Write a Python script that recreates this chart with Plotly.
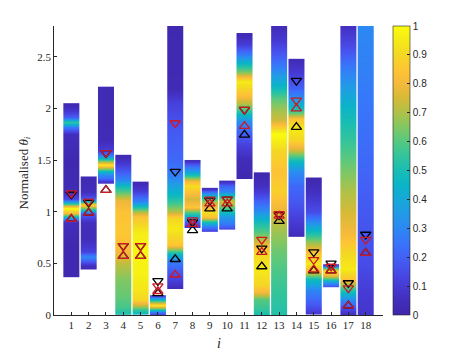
import plotly.graph_objects as go

# ---------------- data ----------------
columns = list(range(1, 19))

# density profiles per column: sample heights (ascending) and normalised density
prof_y = {
    1: [0.37, 0.7, 0.9, 0.95, 0.99, 1.03, 1.07, 1.12, 1.2, 1.5, 1.75, 1.82, 1.87, 1.92, 1.98, 2.05],
    2: [0.44, 0.48, 0.53, 0.57, 0.62, 0.75, 0.9, 0.98, 1.03, 1.07, 1.1, 1.14, 1.2, 1.34],
    3: [1.27, 1.3, 1.33, 1.36, 1.4, 1.455, 1.5, 1.55, 1.6, 1.7, 1.9, 2.21],
    4: [0.0, 0.08, 0.2, 0.35, 0.5, 0.65, 0.8, 1.0, 1.12, 1.18, 1.25, 1.31, 1.4, 1.48, 1.55],
    5: [0.0, 0.05, 0.1, 0.15, 0.25, 0.4, 0.6, 0.8, 0.95, 1.0, 1.05, 1.1, 1.2, 1.29],
    6: [0.0, 0.03, 0.06, 0.1, 0.13, 0.16, 0.19],
    7: [0.25, 0.32, 0.42, 0.52, 0.6, 0.68, 0.76, 0.84, 0.94, 1.0, 1.07, 1.15, 1.25, 1.35, 1.5, 1.8, 2.05, 2.2, 2.8],
    8: [0.85, 0.9, 0.95, 1.0, 1.05, 1.12, 1.2, 1.25, 1.3, 1.35, 1.4, 1.45, 1.5],
    9: [0.81, 0.86, 0.9, 0.95, 1.0, 1.05, 1.1, 1.15, 1.2, 1.23],
    10: [0.83, 0.85, 0.9, 0.95, 1.0, 1.06, 1.1, 1.15, 1.2, 1.25, 1.3],
    11: [1.32, 1.5, 1.65, 1.78, 1.88, 1.96, 2.04, 2.12, 2.2, 2.27, 2.35, 2.42, 2.52, 2.62, 2.73],
    12: [0.0, 0.05, 0.15, 0.22, 0.3, 0.45, 0.6, 0.7, 0.8, 0.9, 1.0, 1.15, 1.25, 1.38],
    13: [0.0, 0.2, 0.4, 0.6, 0.8, 0.95, 1.05, 1.2, 1.4, 1.6, 1.75, 1.89, 2.0, 2.1, 2.2, 2.37, 2.5, 2.65, 2.8],
    14: [0.76, 0.8, 0.95, 1.1, 1.25, 1.4, 1.5, 1.6, 1.7, 1.8, 1.9, 1.95, 2.0, 2.1, 2.2, 2.35, 2.48],
    15: [0.0, 0.1, 0.25, 0.35, 0.42, 0.5, 0.6, 0.7, 0.8, 0.9, 1.0, 1.2, 1.33],
    16: [0.27, 0.29, 0.33, 0.38, 0.42, 0.45, 0.49],
    17: [0.0, 0.05, 0.15, 0.25, 0.35, 0.45, 0.6, 0.8, 1.0, 1.2, 1.4, 1.6, 1.8, 2.0, 2.2, 2.4, 2.6, 2.8],
    18: [0.0, 0.2, 0.5, 1.0, 1.5, 2.0, 2.4, 2.8],
}
prof_v = {
    1: [0.02, 0.02, 0.05, 0.4, 0.8, 1.0, 0.6, 0.15, 0.03, 0.02, 0.05, 0.25, 0.55, 0.2, 0.08, 0.03],
    2: [0.03, 0.06, 0.2, 0.3, 0.12, 0.04, 0.05, 0.2, 0.6, 0.9, 0.45, 0.15, 0.05, 0.03],
    3: [0.04, 0.12, 0.25, 0.3, 0.5, 0.95, 0.55, 0.25, 0.1, 0.04, 0.03, 0.03],
    4: [0.5, 0.58, 0.62, 0.65, 0.72, 0.82, 0.86, 0.84, 0.78, 0.62, 0.48, 0.3, 0.18, 0.08, 0.03],
    5: [0.45, 0.55, 0.75, 0.9, 0.94, 0.97, 0.98, 0.96, 0.85, 0.7, 0.5, 0.3, 0.1, 0.03],
    6: [0.15, 0.25, 0.55, 0.95, 0.6, 0.35, 0.15],
    7: [0.03, 0.1, 0.18, 0.28, 0.5, 0.85, 0.9, 0.95, 0.9, 0.72, 0.6, 0.48, 0.38, 0.28, 0.22, 0.18, 0.12, 0.03, 0.02],
    8: [0.08, 0.2, 0.4, 0.6, 0.85, 0.75, 0.85, 0.92, 0.8, 0.55, 0.35, 0.2, 0.06],
    9: [0.12, 0.3, 0.5, 0.85, 0.92, 0.8, 0.7, 0.45, 0.18, 0.06],
    10: [0.12, 0.18, 0.28, 0.35, 0.5, 0.65, 0.75, 0.55, 0.3, 0.2, 0.06],
    11: [0.02, 0.04, 0.12, 0.22, 0.32, 0.5, 0.7, 0.82, 0.9, 0.95, 0.65, 0.5, 0.28, 0.12, 0.03],
    12: [0.5, 0.55, 0.6, 0.8, 0.9, 0.95, 0.9, 0.75, 0.6, 0.5, 0.32, 0.15, 0.06, 0.02],
    13: [0.52, 0.55, 0.58, 0.62, 0.68, 0.74, 0.8, 0.88, 0.84, 0.9, 1.0, 0.74, 0.68, 0.6, 0.48, 0.3, 0.2, 0.1, 0.04],
    14: [0.03, 0.06, 0.12, 0.18, 0.22, 0.32, 0.5, 0.75, 0.9, 0.95, 0.85, 0.65, 0.5, 0.32, 0.2, 0.1, 0.04],
    15: [0.08, 0.18, 0.3, 0.5, 0.8, 0.95, 0.85, 0.68, 0.5, 0.32, 0.15, 0.06, 0.02],
    16: [0.12, 0.22, 0.4, 0.75, 0.95, 0.6, 0.12],
    17: [0.05, 0.12, 0.3, 0.55, 0.85, 0.95, 0.9, 0.8, 0.75, 0.7, 0.64, 0.58, 0.52, 0.46, 0.36, 0.26, 0.15, 0.06],
    18: [0.08, 0.1, 0.15, 0.18, 0.22, 0.25, 0.28, 0.3],
}

# marker estimates per column
black_down = [1.17, 1.09, 1.57, 0.67, 0.67, 0.33, 1.39, 0.90, 1.11, 1.12, 1.99, 0.645, 0.97, 2.27, 0.61, 0.50, 0.31, 0.78]
black_up   = [0.93, 0.99, 1.21, 0.57, 0.57, 0.21, 0.54, 0.82, 1.03, 1.03, 1.745, 0.47, 0.91, 1.82, 0.43, 0.43, 0.09, 0.60]
red_down   = [1.18, 1.10, 1.57, 0.67, 0.67, 0.28, 1.86, 0.92, 1.12, 1.12, 1.99, 0.73, 0.98, 2.08, 0.535, 0.47, 0.26, 0.73]
red_up     = [0.93, 0.99, 1.21, 0.57, 0.57, 0.23, 0.39, 0.88, 1.08, 1.08, 1.83, 0.61, 0.96, 2.00, 0.44, 0.43, 0.09, 0.60]

x_ticks = list(range(1, 19))
y_ticks = [0, 0.5, 1, 1.5, 2, 2.5]
cbar_ticks = [0, 0.1, 0.2, 0.3, 0.4, 0.5, 0.6, 0.7, 0.8, 0.9, 1]

# ---------------- style ----------------
parula = [
    [0.00, "rgb(62,38,168)"],
    [0.05, "rgb(66,46,188)"],
    [0.10, "rgb(70,58,212)"],
    [0.15, "rgb(71,76,232)"],
    [0.20, "rgb(67,96,246)"],
    [0.25, "rgb(56,117,250)"],
    [0.30, "rgb(44,136,242)"],
    [0.35, "rgb(34,154,230)"],
    [0.40, "rgb(22,168,216)"],
    [0.45, "rgb(10,180,200)"],
    [0.50, "rgb(25,189,180)"],
    [0.55, "rgb(50,196,156)"],
    [0.60, "rgb(86,200,128)"],
    [0.65, "rgb(130,199,98)"],
    [0.70, "rgb(174,193,72)"],
    [0.75, "rgb(214,186,55)"],
    [0.80, "rgb(245,185,60)"],
    [0.85, "rgb(253,197,52)"],
    [0.90, "rgb(244,215,36)"],
    [0.95, "rgb(245,234,24)"],
    [1.00, "rgb(249,251,14)"],
]
half_w = 0.23
eps = 0.004
axis_col = "#262626"
red = "rgb(205,25,35)"
serif = "Liberation Serif"

fig = go.Figure()
for k, c in enumerate(columns):
    ys = prof_y[c]
    vs = prof_v[c]
    yc = [ys[0], ys[0] + eps] + ys[1:-1] + [ys[-1] - eps, ys[-1]]
    vc = [vs[0], vs[0]] + vs[1:-1] + [vs[-1], vs[-1]]
    fig.add_trace(go.Heatmap(
        x=[c - half_w, c + half_w],
        y=yc,
        z=[[v, v] for v in vc],
        zmin=0, zmax=1,
        colorscale=parula,
        zsmooth="best",
        showscale=(k == 0),
        hoverinfo="skip",
        colorbar=dict(
            thickness=17, thicknessmode="pixels",
            len=1, lenmode="fraction",
            x=1.03, xanchor="left", xpad=0,
            y=0.5, yanchor="middle", ypad=0,
            outlinewidth=0.6, outlinecolor=axis_col,
            tickvals=cbar_ticks,
            ticks="inside", ticklen=3, tickcolor=axis_col,
            tickfont=dict(family="Liberation Sans", size=10, color=axis_col),
        ),
    ))

def add_markers(vals, symbol, color):
    fig.add_trace(go.Scatter(
        x=columns, y=vals, mode="markers",
        marker=dict(symbol=symbol, size=9, color=color,
                    line=dict(color=color, width=1.3)),
        showlegend=False, hoverinfo="skip", cliponaxis=False,
    ))

add_markers(black_down, "triangle-down-open", "black")
add_markers(black_up, "triangle-up-open", "black")
add_markers(red_down, "triangle-down-open", red)
add_markers(red_up, "triangle-up-open", red)

fig.update_layout(
    width=474, height=355,
    margin=dict(l=54, r=91, t=26, b=40, autoexpand=False),
    paper_bgcolor="white", plot_bgcolor="white",
    showlegend=False,
    xaxis=dict(
        range=[0, 19], tickvals=x_ticks, automargin=False,
        showgrid=False, zeroline=False,
        showline=True, linecolor=axis_col, linewidth=0.8,
        ticks="inside", ticklen=3, tickcolor=axis_col,
        tickfont=dict(family=serif, size=11, color=axis_col),
    ),
    yaxis=dict(
        range=[0, 2.8], tickvals=y_ticks, automargin=False,
        showgrid=False, zeroline=False,
        showline=True, linecolor=axis_col, linewidth=0.8,
        ticks="inside", ticklen=3, tickcolor=axis_col,
        tickfont=dict(family=serif, size=11, color=axis_col),
    ),
    annotations=[
        dict(text="<i>i</i>", xref="paper", yref="paper", x=0.5, y=-0.097,
             xanchor="center", yanchor="middle", showarrow=False,
             font=dict(family=serif, size=14, color=axis_col)),
        dict(text="Normalised <i>θ</i><sub><i>i</i></sub>", xref="paper", yref="paper",
             x=-0.091, y=0.49, xanchor="center", yanchor="middle", textangle=-90,
             showarrow=False, font=dict(family=serif, size=13, color=axis_col)),
    ],
)

fig.write_html("out.html", config={"displayModeBar": False},
               post_script="document.body.style.margin='0';")
